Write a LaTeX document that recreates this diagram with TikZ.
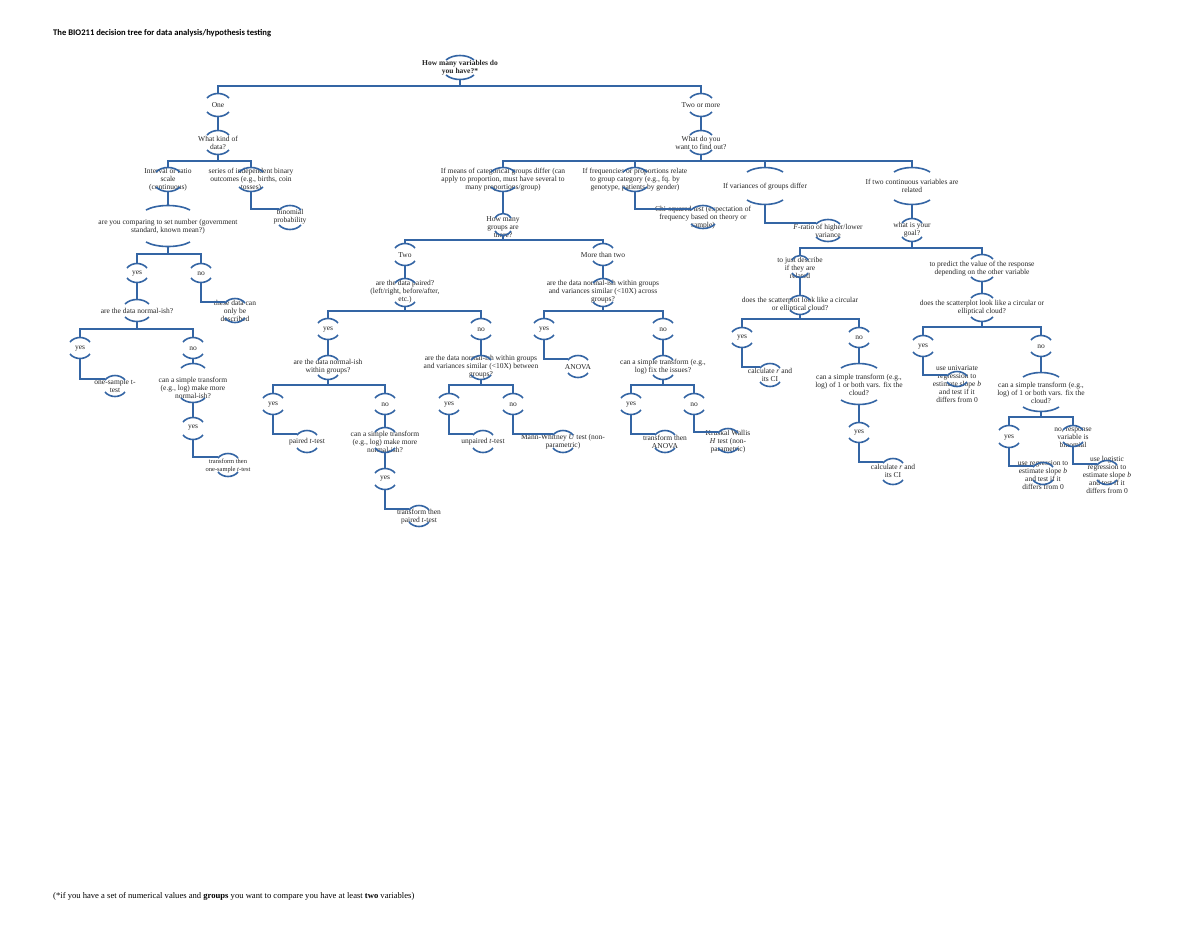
\documentclass[tikz,border=0pt]{standalone}
\usepackage{fontspec}
\setmainfont{Liberation Serif}
\newfontfamily\titlefont{Carlito}
\definecolor{lc}{HTML}{3465A4}
\tikzset{
 txt/.style={inner sep=0pt,align=center,font=\fontsize{7.5}{8}\selectfont,text=black!85},
 arcln/.style={draw=lc,line width=1.6pt},
 conn/.style={draw=lc,line width=1.6pt}
}
\newcommand\N[7][10]{%
 \node[txt] (#2) at (#3,#6) {#7};
 \coordinate (#2-t) at (#3,#4);
 \coordinate (#2-b) at (#3,#5);
 \coordinate (#2-l) at (#3-#1,#4+4);
 \draw[arcln] (#3-#1,#4+5) .. controls (#3-#1/2,#4-1) and (#3+#1/2,#4-1) .. (#3+#1,#4+5);
 \draw[arcln] (#3-#1,#5-5) .. controls (#3-#1/2,#5+1) and (#3+#1/2,#5+1) .. (#3+#1,#5-5);
}
\newcommand\Bus[3]{\draw[conn] (#1-b) -- ++(0,#2) -| (#3-t);}
\newcommand\St[2]{\draw[conn] (#1-b) -- (#2-t);}
\newcommand\Sd[2]{\draw[conn] (#1-b) |- (#2-l);}
\begin{document}
\begin{tikzpicture}[x={(1pt,0)},y={(0,-1pt)}]
\useasboundingbox[fill=white] (0,0) rectangle (1200,927);
\node[anchor=west,inner sep=0,font=\titlefont\bfseries\fontsize{8.6}{10}\selectfont] (title) at (53,33) {The BIO211 decision tree for data analysis/hypothesis testing};
\node[anchor=west,inner sep=0,font=\fontsize{8.6}{10}\selectfont] (foot) at (53,896) {(*if you have a set of numerical values and \textbf{groups} you want to compare you have at least \textbf{two} variables)};
% level 0-1
\N[14]{root}{460}{55}{80}{68}{\textbf{How many variables do}\\\textbf{you have?*}}
\N[11]{one}{218}{93}{117}{105}{One}
\N[11]{kind}{218}{130}{155}{143}{What kind of\\data?}
\N[12]{interval}{168}{167}{192}{180}{Interval or ratio\\scale\\(continuous)}
\N[12]{series}{251}{167}{192}{180}{series of independent binary\\outcomes (e.g., births, coin\\tosses)}
\N[11]{binom}{290}{205}{230}{217}{binomial\\probability}
\N[22]{comp}{168}{205}{247}{227}{are you comparing to set number (government\\standard, known mean?)}
\N{yesa}{137}{263}{283}{274}{yes}
\N{noa}{201}{263}{283}{274}{no}
\N{descr}{235}{298}{323}{311}{these data can\\only be\\described}
\N[12]{norm1}{137}{299}{322}{311}{are the data normal-ish?}
\N{yesb}{80}{337}{359}{349}{yes}
\N{nob}{193}{337}{359}{349}{no}
\N{onest}{115}{375}{397}{386}{one-sample t-\\test}
\N[12]{trans1}{193}{363}{403}{388}{can a simple transform\\(e.g., log) make more\\normal-ish?}
\N{yesc}{193}{417}{440}{428}{yes}
\node[txt,font=\fontsize{6.5}{7.5}\selectfont] (tt1) at (228,466) {transform then\\one-sample \textit{t}-test};
\coordinate (tt1-l) at (218,457);
\draw[arcln] (218,458) .. controls (223,452) and (233,452) .. (238,458);
\draw[arcln] (218,472) .. controls (223,478) and (233,478) .. (238,472);
% right big branch
\N[11]{twom}{701}{93}{117}{105}{Two or more}
\N[11]{find}{701}{130}{155}{143}{What do you\\want to find out?}
\N[12]{means}{503}{167}{192}{180}{If means of categorical groups differ (can\\apply to proportion, must have several to\\many proportions/group)}
\N[12]{freq}{635}{167}{192}{180}{If frequencies or proportions relate\\to group category (e.g., fq. by\\genotype, patients by gender)}
\N[18]{var}{765}{167}{205}{187}{If variances of groups differ}
\N[18]{cont}{912}{167}{205}{186}{If two continuous variables are\\related}
\N[12]{chi}{703}{205}{229}{218}{Chi-squared test (expectation of\\frequency based on theory or\\sample)}
\N[12]{fratio}{828}{219}{242}{231}{\textit{F}-ratio of higher/lower\\variance}
\N{goal}{912}{218}{242}{230}{what is your\\goal?}
\N[8]{howm}{503}{213}{236}{227}{How many\\groups are\\there?}
\N{two}{405}{243}{266}{255}{Two}
\N{more}{603}{243}{266}{255}{More than two}
\N{paired}{405}{278}{307}{292}{are the data paired?\\(left/right, before/after,\\etc.)}
\N{yesd}{328}{318}{340}{330}{yes}
\N{nod}{481}{318}{340}{330}{no}
\N{norma}{328}{355}{380}{367}{are the data normal-ish\\within groups?}
\N{yese}{273}{393}{415}{405}{yes}
\N{noe}{385}{393}{415}{405}{no}
\N{pairt}{307}{430}{453}{442}{paired \textit{t}-test}
\N{transb}{385}{427}{453}{442}{can a simple transform\\(e.g., log) make more\\normal-ish?}
\N{yesf}{385}{468}{490}{479}{yes}
\N{ttb}{419}{505}{527}{517}{transform then\\paired \textit{t}-test}
\N{normv}{481}{355}{380}{367}{are the data normal-ish within groups\\and variances similar (<10X) between\\groups?}
\N{yesg}{449}{393}{415}{405}{yes}
\N{nog}{513}{393}{415}{405}{no}
\N{unp}{483}{430}{453}{442}{unpaired \textit{t}-test}
\N{mann}{563}{430}{453}{442}{Mann-Whitney \textit{U} test (non-\\parametric)}
\N{normv2}{603}{278}{307}{292}{are the data normal-ish within groups\\and variances similar (<10X) across\\groups?}
\N{yesh}{544}{318}{340}{330}{yes}
\N{noh}{663}{318}{340}{330}{no}
\N{anova}{578}{355}{378}{367}{ANOVA}
\N{transe}{663}{355}{380}{367}{can a simple transform (e.g.,\\log) fix the issues?}
\N{yesi}{631}{393}{415}{405}{yes}
\N{noi}{694}{393}{415}{405}{no}
\N{tanova}{665}{430}{453}{442}{transform then\\ANOVA}
\N{krus}{728}{428}{453}{442}{Kruskal Wallis\\\textit{H} test (non-\\parametric)}
% correlation / regression
\N[8]{just}{800}{255}{278}{268}{to just describe\\if they are\\related}
\N[11]{pred}{982}{254}{282}{269}{to predict the value of the response\\depending on the other variable}
\N{scat1}{800}{295}{315}{305}{does the scatterplot look like a circular\\or elliptical cloud?}
\N{yesj}{742}{327}{348}{338}{yes}
\N{noj}{859}{327}{348}{338}{no}
\N{calc1}{770}{363}{387}{375}{calculate \textit{r} and\\its CI}
\N[18]{transg}{859}{363}{405}{385}{can a simple transform (e.g.,\\log) of 1 or both vars. fix the\\cloud?}
\N{yesk}{859}{422}{443}{433}{yes}
\N{calc2}{893}{458}{485}{471}{calculate \textit{r} and\\its CI}
\N[11]{scat2}{982}{293}{322}{308}{does the scatterplot look like a circular or\\elliptical cloud?}
\N{yesl}{923}{335}{357}{347}{yes}
\N{nol}{1041}{335}{357}{347}{no}
\N{univ}{957}{371}{387}{384}{use univariate\\regression to\\estimate slope \textit{b}\\and test if it\\differs from 0}
\N[18]{transl}{1041}{372}{412}{393}{can a simple transform (e.g.,\\log) of 1 or both vars. fix the\\cloud?}
\N{yesm}{1009}{425}{448}{438}{yes}
\N{nom}{1073}{425}{447}{438}{no, response\\variable is\\binomial}
\N{reg}{1043}{462}{485}{475}{use regression to\\estimate slope \textit{b}\\and test if it\\differs from 0}
\N{logit}{1107}{460}{485}{475}{use logistic\\regression to\\estimate slope \textit{b}\\and test if it\\differs from 0}
% connectors
\Bus{root}{6}{one}\Bus{root}{6}{twom}
\St{one}{kind}
\Bus{kind}{6}{interval}\Bus{kind}{6}{series}
\Sd{series}{binom}
\St{interval}{comp}
\Bus{comp}{7}{yesa}\Bus{comp}{7}{noa}
\Sd{noa}{descr}
\St{yesa}{norm1}
\Bus{norm1}{7}{yesb}\Bus{norm1}{7}{nob}
\Sd{yesb}{onest}
\St{nob}{trans1}\St{trans1}{yesc}\Sd{yesc}{tt1}
\St{twom}{find}
\Bus{find}{6}{means}\Bus{find}{6}{freq}\Bus{find}{6}{var}\Bus{find}{6}{cont}
\St{means}{howm}
\Bus{howm}{4}{two}\Bus{howm}{4}{more}
\Sd{freq}{chi}\Sd{var}{fratio}\St{cont}{goal}
\Bus{goal}{6}{just}\Bus{goal}{6}{pred}
\St{two}{paired}
\Bus{paired}{4}{yesd}\Bus{paired}{4}{nod}
\St{yesd}{norma}
\Bus{norma}{5}{yese}\Bus{norma}{5}{noe}
\Sd{yese}{pairt}\St{noe}{transb}\St{transb}{yesf}\Sd{yesf}{ttb}
\St{nod}{normv}
\Bus{normv}{5}{yesg}\Bus{normv}{5}{nog}
\Sd{yesg}{unp}\Sd{nog}{mann}
\St{more}{normv2}
\Bus{normv2}{4}{yesh}\Bus{normv2}{4}{noh}
\Sd{yesh}{anova}\St{noh}{transe}
\Bus{transe}{5}{yesi}\Bus{transe}{5}{noi}
\Sd{yesi}{tanova}\Sd{noi}{krus}
\St{just}{scat1}
\Bus{scat1}{4}{yesj}\Bus{scat1}{4}{noj}
\Sd{yesj}{calc1}\St{noj}{transg}\St{transg}{yesk}\Sd{yesk}{calc2}
\St{pred}{scat2}
\Bus{scat2}{5}{yesl}\Bus{scat2}{5}{nol}
\Sd{yesl}{univ}\St{nol}{transl}
\Bus{transl}{5}{yesm}\Bus{transl}{5}{nom}
\Sd{yesm}{reg}\Sd{nom}{logit}
\end{tikzpicture}
\end{document}
